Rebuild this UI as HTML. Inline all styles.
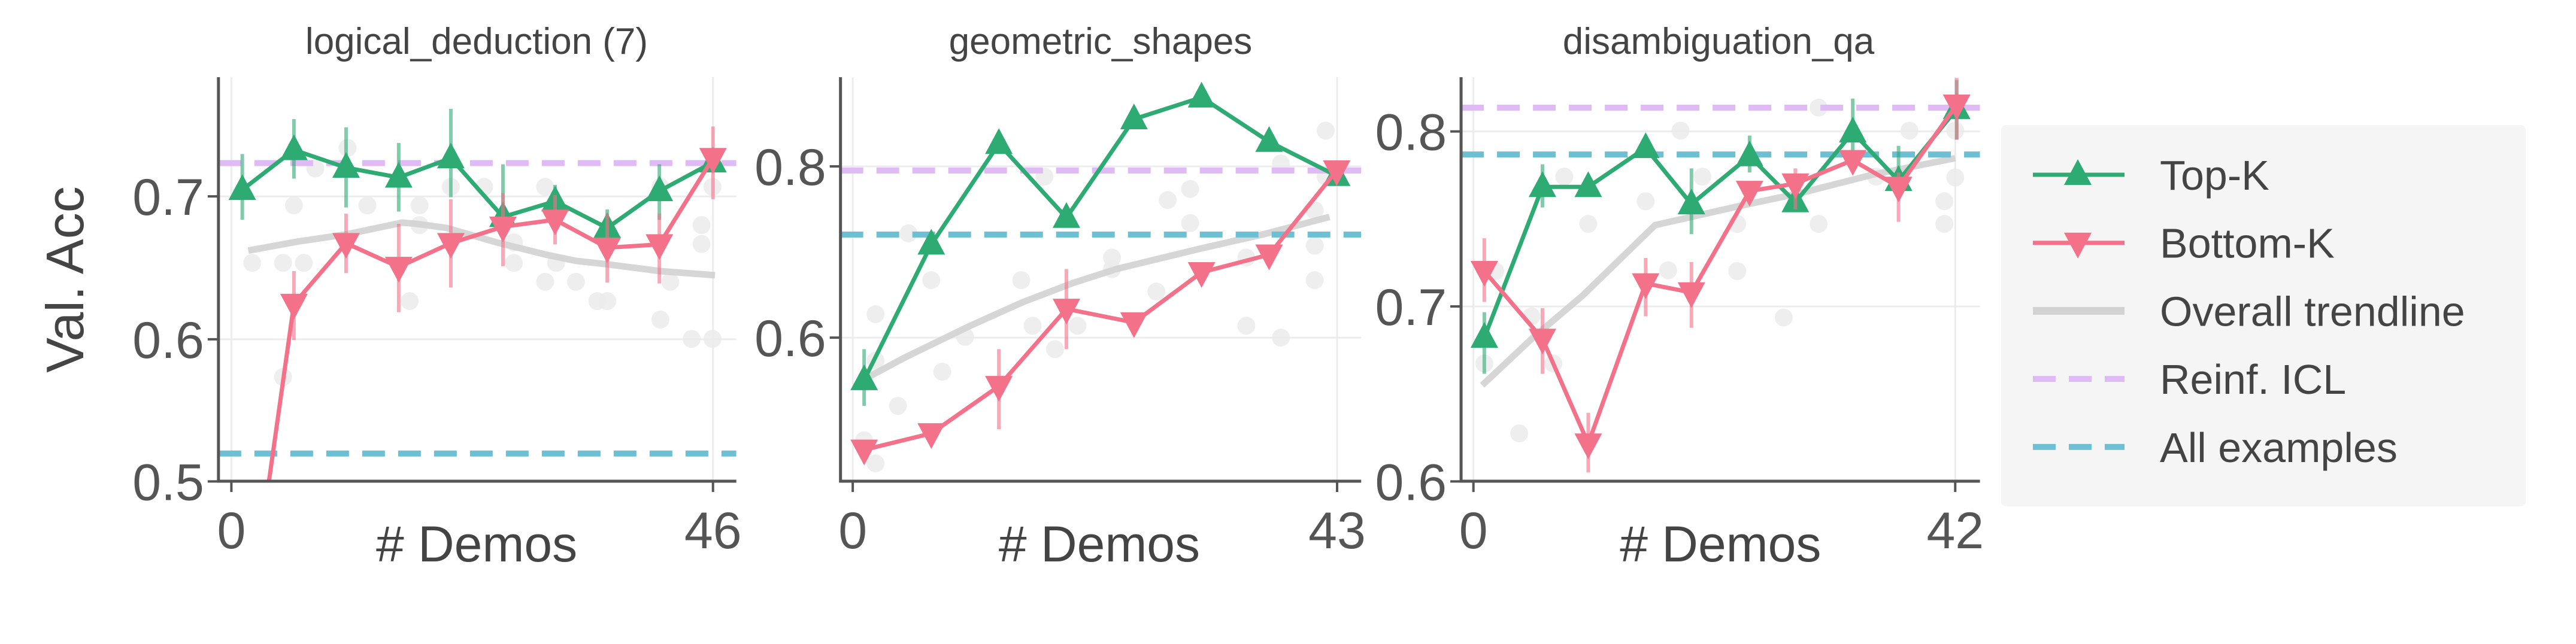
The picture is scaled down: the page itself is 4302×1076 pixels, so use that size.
<!DOCTYPE html>
<html><head><meta charset="utf-8"><style>
html,body{margin:0;padding:0;background:#fff;width:4302px;height:1076px;overflow:hidden;}
svg{display:block;font-family:"Liberation Sans",sans-serif;}
</style></head><body>
<svg id="s" width="4302" height="1076" xmlns="http://www.w3.org/2000/svg"></svg>
<script>
const G='#2eaa73',P='#f4718a',B='#6dbfd3',V='#e0baf5',T='#d2d2d2';
const panels=[
{ox:0,sx:1.206,sy:1.457,L:440,R:1483,title:'logical_deduction (7)',tx:796,xt:[[466,'0'],[1436,'46']],
 yt:[[478,'0.7'],[826,'0.6'],[1172,'0.5']],reinf:397,all:1104,
 top:[[488,462,375,535],[592,365,290,435],[697,408,310,505],[803,432,348,515],[908,385,265,480],[1013,528,400,560],[1118,490,450,530],[1223,555,510,590],[1328,465,400,535],[1436,395,395,395]],
 bot:[[480,1700,0,0],[592,740,660,828],[697,592,520,665],[803,650,545,760],[908,592,485,700],[1013,552,470,648],[1118,535,475,595],[1223,603,520,688],[1328,595,520,690],[1436,385,308,485]],
 trend:[[500,610],[600,588],[700,570],[810,542],[840,545],[900,555],[1000,590],[1100,620],[1160,635],[1220,643],[1330,660],[1440,670]],
 dots:[[508,640],[570,640],[612,640],[592,500],[635,410],[700,360],[740,500],[845,500],[845,548],[825,733],[908,455],[975,455],[1035,640],[1098,455],[1098,686],[1120,640],[1160,686],[1203,733],[1223,733],[1330,455],[1330,778],[1350,686],[1393,825],[1435,825],[1413,548],[1413,594],[1435,455],[570,918],[1035,590]],
 dx:960},
{ox:1300,sx:1.418,sy:1.457,L:147,R:1380,title:'geometric_shapes',tx:1838,xt:[[176,'0'],[1323,'43']],
 yt:[[405,'0.8'],[822,'0.6']],reinf:415,all:571,
 top:[[203,925,850,988],[362,595,0,0],[522,350,0,0],[682,530,0,0],[842,290,0,0],[1002,237,0,0],[1162,345,0,0],[1322,428,0,0]],
 bot:[[203,1095,0,0],[362,1055,0,0],[522,940,850,1045],[682,752,655,850],[842,785,0,0],[1002,663,0,0],[1162,620,0,0],[1322,415,0,0]],
 trend:[[200,925],[300,870],[450,795],[580,735],[700,688],[800,655],[900,630],[1000,605],[1150,570],[1305,528]],
 dots:[[230,765],[230,878],[283,988],[388,905],[442,820],[362,682],[308,568],[203,1072],[230,1128],[575,682],[602,793],[655,850],[708,793],[630,430],[790,627],[790,655],[895,710],[922,487],[975,460],[975,543],[1108,793],[1108,627],[1190,398],[1190,822],[1270,512],[1270,598],[1270,682],[1296,318],[1296,430]],
 dx:760},
{ox:2400,sx:0.824,sy:1.457,L:33,R:747,title:'disambiguation_qa',tx:2870,xt:[[50,'0'],[713,'42']],
 yt:[[320,'0.8'],[746,'0.7'],[1172,'0.6']],reinf:262,all:376,
 top:[[65,822,760,910],[145,455,400,505],[208,455,0,0],[287,360,0,0],[350,497,410,570],[430,380,330,420],[493,492,0,0],[572,322,240,400],[635,440,355,480],[715,265,195,340]],
 bot:[[65,660,580,735],[145,825,750,910],[208,1080,1005,1150],[287,690,628,770],[350,712,638,798],[430,465,0,0],[493,447,410,510],[572,390,0,0],[635,455,420,540],[715,255,190,340]],
 trend:[[62,938],[130,825],[200,720],[300,548],[420,500],[500,470],[600,425],[713,385]],
 dots:[[80,660],[130,770],[160,885],[65,885],[113,1055],[175,430],[208,545],[287,490],[335,318],[318,658],[365,430],[413,545],[413,660],[477,773],[525,545],[525,262],[604,430],[650,318],[698,490],[698,545],[713,318],[713,432]],
 dx:390}
];
const TOP=129,BOT=804;
let h='';
panels.forEach((p,i)=>{
 const X=x=>p.ox+x/p.sx, Y=y=>y/p.sy;
 const L=X(p.L),R=X(p.R);
 h+=`<clipPath id="c${i}"><rect x="${L}" y="${TOP}" width="${R-L}" height="${BOT-TOP}"/></clipPath>`;
 p.yt.forEach(t=>{h+=`<line x1="${L}" x2="${R}" y1="${Y(t[0])}" y2="${Y(t[0])}" stroke="#ececec" stroke-width="3"/>`;});
 p.xt.forEach(t=>{h+=`<line x1="${X(t[0])}" x2="${X(t[0])}" y1="${TOP}" y2="${BOT}" stroke="#ececec" stroke-width="3"/>`;});
 h+=`<g clip-path="url(#c${i})">`;
 p.dots.forEach(d=>{h+=`<circle cx="${X(d[0])}" cy="${Y(d[1])}" r="15" fill="#ebebeb" opacity="0.85"/>`;});
 h+=`<polyline points="${p.trend.map(d=>X(d[0])+','+Y(d[1])).join(' ')}" fill="none" stroke="${T}" stroke-width="11" opacity="0.9" stroke-linejoin="round"/>`;
 h+=`<line x1="${L}" x2="${R}" y1="${Y(p.reinf)}" y2="${Y(p.reinf)}" stroke="${V}" stroke-width="10" stroke-dasharray="38 22"/>`;
 h+=`<line x1="${L}" x2="${R}" y1="${Y(p.all)}" y2="${Y(p.all)}" stroke="${B}" stroke-width="10" stroke-dasharray="38 22"/>`;
 [[p.top,G,1],[p.bot,P,-1]].forEach(([d,c,dir])=>{
  d.forEach(q=>{if(q[2]&&q[3]&&q[3]>q[2])h+=`<line x1="${X(q[0])}" x2="${X(q[0])}" y1="${Y(q[2])}" y2="${Y(q[3])}" stroke="${c}" stroke-width="6" opacity="0.6"/>`;});
  h+=`<polyline points="${d.map(q=>X(q[0])+','+Y(q[1])).join(' ')}" fill="none" stroke="${c}" stroke-width="7" stroke-linejoin="round"/>`;
  d.forEach(q=>{const cx=X(q[0]),cy=Y(q[1]),w=23,a=26,b=17;
   const pts=dir>0?`${cx},${cy-a} ${cx-w},${cy+b} ${cx+w},${cy+b}`:`${cx},${cy+a} ${cx-w},${cy-b} ${cx+w},${cy-b}`;
   h+=`<polygon points="${pts}" fill="${c}"/>`;});
 });
 h+='</g>';
 h+=`<line x1="${L}" x2="${L}" y1="${TOP}" y2="${BOT+2}" stroke="#555" stroke-width="5"/>`;
 h+=`<line x1="${L-2}" x2="${R}" y1="${BOT}" y2="${BOT}" stroke="#555" stroke-width="5"/>`;
 p.yt.forEach(t=>{const y=Y(t[0]);h+=`<line x1="${L-18}" x2="${L}" y1="${y}" y2="${y}" stroke="#555" stroke-width="4"/><text x="${L-24}" y="${y+31}" font-size="86" fill="#555" text-anchor="end">${t[1]}</text>`;});
 p.xt.forEach(t=>{const x=X(t[0]);h+=`<line x1="${x}" x2="${x}" y1="${BOT}" y2="${BOT+18}" stroke="#555" stroke-width="4"/><text x="${x}" y="${BOT+112}" font-size="86" fill="#555" text-anchor="middle">${t[1]}</text>`;});
 h+=`<text x="${p.tx}" y="90" font-size="62" fill="#444" text-anchor="middle">${p.title}</text>`;
 h+=`<text x="${X(p.dx)}" y="938" font-size="84" fill="#444" text-anchor="middle"># Demos</text>`;
});
h+=`<text transform="translate(139,467) rotate(-90)" font-size="88" fill="#444" text-anchor="middle">Val. Acc</text>`;
h+=`<rect x="3342" y="209" width="876" height="637" rx="8" fill="#f5f5f5"/>`;
const lg=[['Top-K',G,'up'],['Bottom-K',P,'down'],['Overall trendline',T,'trend'],['Reinf. ICL',V,'dash'],['All examples',B,'dash']];
lg.forEach((e,i)=>{const y=292+i*113.7,x1=3395,x2=3548,cx=3470;
 if(e[2]=='trend')h+=`<line x1="${x1}" x2="${x2}" y1="${y}" y2="${y}" stroke="${e[1]}" stroke-width="13"/>`;
 else if(e[2]=='dash')h+=`<line x1="${x1}" x2="${x2}" y1="${y}" y2="${y}" stroke="${e[1]}" stroke-width="10" stroke-dasharray="38 22"/>`;
 else{h+=`<line x1="${x1}" x2="${x2}" y1="${y}" y2="${y}" stroke="${e[1]}" stroke-width="7"/>`;
  h+= e[2]=='up'?`<polygon points="${cx},${y-26} ${cx-23},${y+17} ${cx+23},${y+17}" fill="${e[1]}"/>`:`<polygon points="${cx},${y+26} ${cx-23},${y-17} ${cx+23},${y-17}" fill="${e[1]}"/>`;}
 h+=`<text x="3607" y="${y+25}" font-size="70" fill="#444">${e[0]}</text>`;
});
document.getElementById('s').innerHTML=h;
</script>
</body></html>
